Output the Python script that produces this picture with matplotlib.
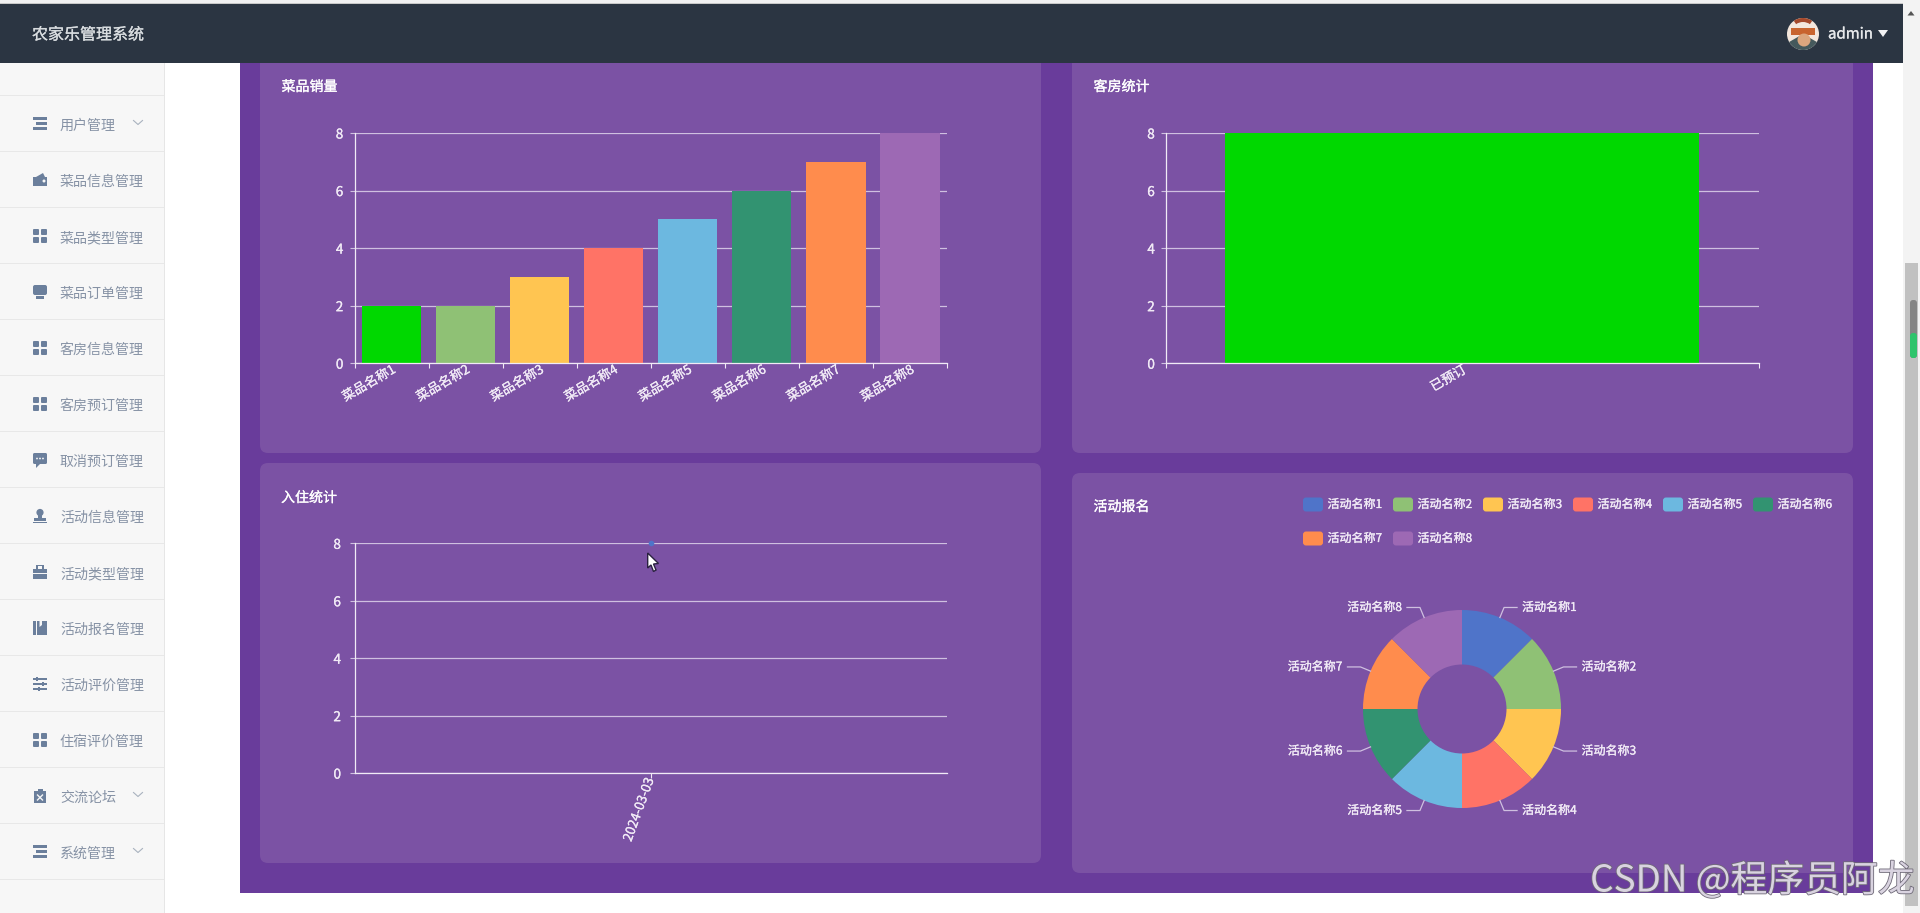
import matplotlib
matplotlib.use('Agg')
import matplotlib.pyplot as plt
import matplotlib.patheffects as pe
from matplotlib.patches import Rectangle, FancyBboxPatch, Circle, Polygon, Wedge
import numpy as np

plt.rcParams['font.family'] = ['Noto Sans CJK SC', 'DejaVu Sans']

W, H = 1920, 913

# data
dish_names = ['菜品名称1', '菜品名称2', '菜品名称3', '菜品名称4', '菜品名称5', '菜品名称6', '菜品名称7', '菜品名称8']
dish_sales = [2, 2, 3, 4, 5, 6, 7, 8]
room_names = ['已预订']
room_counts = [8]
checkin_dates = ['2024-03-03']
checkin_counts = [8]
activity_names = ['活动名称1', '活动名称2', '活动名称3', '活动名称4', '活动名称5', '活动名称6', '活动名称7', '活动名称8']
activity_signups = [1, 1, 1, 1, 1, 1, 1, 1]
y_ticks = [0, 2, 4, 6, 8]

palette = ['#4f74c9', '#8fc175', '#ffc551', '#ff7366', '#6cb8e0', '#329371', '#ff8c4d', '#9d69b4']
dish_colors = ['#00d800'] + palette[1:]

menu_items = ['用户管理', '菜品信息管理', '菜品类型管理', '菜品订单管理', '客房信息管理', '客房预订管理', '取消预订管理',
              '活动信息管理', '活动类型管理', '活动报名管理', '活动评价管理', '住宿评价管理', '交流论坛', '系统管理']
menu_icons = ['list', 'wallet', 'grid', 'inbox', 'grid', 'grid', 'chat',
              'user', 'case', 'book', 'sliders', 'grid', 'clip', 'list']
menu_open = [True, False, False, False, False, False, False, False, False, False, False, False, True, True]

PURPLE = '#693c9b'
PANEL = '#7b52a4'
LINE = '#cfc0e0'
TEXT = '#f1eaf6'
ICON = '#6b7f9c'

fig = plt.figure(figsize=(W / 100, H / 100), dpi=100, facecolor='white')


def px_axes(x0, y0, x1, y1, z=1):
    ax = fig.add_axes([x0 / W, 1 - y1 / H, (x1 - x0) / W, (y1 - y0) / H], zorder=z)
    ax.patch.set_visible(False)
    return ax


def px(size):
    return size * 0.72


def thick(color, width=0.2):
    # the screenshot is blurred, its text looks heavier than the regular weight
    return [pe.withStroke(linewidth=width, foreground=color)]


# page behind the charts, in pixel coordinates
bg = fig.add_axes([0, 0, 1, 1], zorder=0)
bg.set_xlim(0, W)
bg.set_ylim(H, 0)
bg.axis('off')


def rect(ax, x0, y0, x1, y1, color, z=1):
    ax.add_patch(Rectangle((x0, y0), x1 - x0, y1 - y0, fc=color, ec='none', zorder=z))


def draw_icon(kind, cx, cy):
    left, right = cx - 7, cx + 7
    if kind == 'grid':
        for dx in (-7, 1):
            for dy in (-7, 1):
                bg.add_patch(FancyBboxPatch((cx + dx, cy + dy), 6, 6, boxstyle='round,pad=0,rounding_size=1', fc=ICON, ec='none', zorder=3))
    elif kind == 'list':
        for dy, x in ((-5, left), (0, left + 3), (5, left)):
            rect(bg, x, cy + dy - 1.5, right, cy + dy + 1.5, ICON, 3)
    elif kind == 'wallet':
        rect(bg, left, cy - 3, right, cy + 6, ICON, 3)
        bg.add_patch(Polygon([(left + 3, cy - 3), (cx + 3, cy - 7), (cx + 5, cy - 3)], fc=ICON, ec='none', zorder=3))
        bg.add_patch(Circle((cx + 4, cy + 1), 1.5, fc='#f7f7f7', ec='none', zorder=4))
    elif kind == 'inbox':
        bg.add_patch(FancyBboxPatch((left, cy - 7), 14, 10, boxstyle='round,pad=0,rounding_size=2', fc=ICON, ec='none', zorder=3))
        rect(bg, left + 3, cy + 4, right - 3, cy + 7, ICON, 3)
    elif kind == 'chat':
        bg.add_patch(FancyBboxPatch((left, cy - 7), 14, 11, boxstyle='round,pad=0,rounding_size=1.5', fc=ICON, ec='none', zorder=3))
        bg.add_patch(Polygon([(left + 3, cy + 4), (left + 7, cy + 4), (left + 3, cy + 8)], fc=ICON, ec='none', zorder=3))
        for dx in (-3, 0, 3):
            bg.add_patch(Circle((cx + dx, cy - 1.5), 0.9, fc='#f7f7f7', ec='none', zorder=4))
    elif kind == 'user':
        bg.add_patch(Circle((cx, cy - 3.5), 3.6, fc=ICON, ec='none', zorder=3))
        rect(bg, cx - 2, cy - 1, cx + 2, cy + 3, ICON, 3)
        rect(bg, left + 1, cy + 2, right - 1, cy + 5, ICON, 3)
        rect(bg, left, cy + 6, right, cy + 7.5, ICON, 3)
    elif kind == 'case':
        rect(bg, left, cy - 3, right, cy + 7, ICON, 3)
        rect(bg, cx - 4, cy - 7, cx + 4, cy - 3, ICON, 3)
        rect(bg, cx - 2.4, cy - 5.5, cx + 2.4, cy - 3, '#f7f7f7', 4)
        rect(bg, left, cy + 0.8, right, cy + 1.8, '#f7f7f7', 4)
    elif kind == 'book':
        rect(bg, left, cy - 7, left + 3, cy + 7, ICON, 3)
        bg.add_patch(Polygon([(left + 4, cy - 7), (cx - 0.5, cy - 7), (cx - 0.5, cy - 1), (cx + 2, cy - 3), (cx + 2, cy - 7), (right, cy - 7), (right, cy + 7), (left + 4, cy + 7)], fc=ICON, ec='none', zorder=3))
    elif kind == 'sliders':
        for dy, dx in ((-5, -3), (0, 3), (5, -1)):
            rect(bg, left, cy + dy - 0.6, right, cy + dy + 0.6, ICON, 3)
            rect(bg, cx + dx - 1.2, cy + dy - 2, cx + dx + 1.2, cy + dy + 2, ICON, 3)
    elif kind == 'clip':
        rect(bg, left + 1, cy - 5, right - 1, cy + 7, ICON, 3)
        rect(bg, cx - 2.5, cy - 7, cx + 2.5, cy - 4, ICON, 3)
        bg.plot([cx - 2.5, cx + 2.5], [cy - 1, cy + 4], color='#f7f7f7', lw=1, zorder=4)
        bg.plot([cx - 2.5, cx + 2.5], [cy + 4, cy - 1], color='#f7f7f7', lw=1, zorder=4)


# purple content area and panels
rect(bg, 240, 50, 1873, 893, PURPLE)
for x0, y0, x1, y1 in [(260, 40, 1041, 453), (1072, 40, 1853, 453), (260, 463, 1041, 863), (1072, 473, 1853, 873)]:
    bg.add_patch(FancyBboxPatch((x0, y0), x1 - x0, y1 - y0, boxstyle='round,pad=0,rounding_size=8', fc=PANEL, ec='none', zorder=2))

# sidebar
rect(bg, 0, 63, 164, H, '#f7f7f7', 2)
rect(bg, 164, 63, 165, H, '#e6e6e6', 2)
for i in range(15):
    rect(bg, 0, 95.2 + 56 * i, 164, 96.2 + 56 * i, '#e8e8e8', 2)
for i, name in enumerate(menu_items):
    cy = 124 + 56 * i
    draw_icon(menu_icons[i], 40, cy)
    bg.text(60, cy + 2, name, fontsize=px(14), color='#8692a5', ha='left', va='center', zorder=3)
    if menu_open[i]:
        bg.plot([133.5, 138, 142.5], [cy - 3.5, cy + 0.5, cy - 3.5], color='#a9b2bf', lw=0.8, zorder=3)

# header
rect(bg, 0, 0, W, 4, '#f1f1f1', 5)
rect(bg, 0, 3.4, 1903, 4, '#c8c8c8', 5)
rect(bg, 0, 4, 1903, 63.5, '#2b3542', 5)
bg.text(32, 35, '农家乐管理系统', fontsize=px(16), color='#d9dde0', ha='left', va='center', zorder=6, path_effects=thick('#d9dde0'))
bg.text(1828, 34.5, 'admin', fontsize=px(15), color='#e6e8ea', ha='left', va='center', zorder=6, path_effects=thick('#e6e8ea'))
bg.add_patch(Polygon([(1878, 30), (1888, 30), (1883, 37)], fc='#f2f3f4', ec='none', zorder=6))

# avatar
bg.add_patch(Circle((1803, 34), 16, fc='#f3e6dc', ec='none', zorder=6))
bg.add_patch(Wedge((1803, 34), 16, 30, 150, fc='#45595c', ec='none', zorder=6))
rect(bg, 1791, 28, 1815, 35, '#c8642f', 7)
bg.add_patch(Circle((1804, 40), 6.5, fc='#dba67e', ec='none', zorder=7))
bg.add_patch(Wedge((1803, 34), 16, 235, 305, fc='#a5482a', ec='none', zorder=7, width=4))

# scrollbar
rect(bg, 1903, 0, W, H, '#f3f3f3', 5)
bg.add_patch(Polygon([(1907.5, 15.5), (1914.5, 15.5), (1911, 11)], fc='#555555', ec='none', zorder=6))
rect(bg, 1905, 263, 1918, 906, '#c1c1c1', 6)
bg.add_patch(FancyBboxPatch((1910, 300), 7, 58, boxstyle='round,pad=0,rounding_size=3', fc='#858585', ec='none', zorder=7))
bg.add_patch(FancyBboxPatch((1910, 333), 7, 25, boxstyle='round,pad=0,rounding_size=3', fc='#2fc46c', ec='none', zorder=8))

# panel titles
for x, y, title in [(281.5, 87, '菜品销量'), (1093.5, 87, '客房统计'), (281, 498, '入住统计'), (1093.5, 507, '活动报名')]:
    bg.text(x, y, title, fontsize=px(14), color='#ffffff', ha='left', va='center', zorder=3, path_effects=thick('#ffffff'))


def style_axes(ax, n, with_boundary=True):
    for s in ('top', 'right'):
        ax.spines[s].set_visible(False)
    for s in ('left', 'bottom'):
        ax.spines[s].set_color('#f1eaf6')
        ax.spines[s].set_linewidth(0.9)
    ax.set_xlim(-0.5, n - 0.5)
    ax.set_ylim(0, 8)
    ax.set_yticks(y_ticks)
    ax.yaxis.grid(True, color=LINE, lw=0.9, zorder=0)
    ax.set_axisbelow(True)
    ax.tick_params(axis='y', length=3.6, width=0.8, color=LINE, labelcolor=TEXT, labelsize=px(13.5), pad=4.5)
    for label in ax.get_yticklabels():
        label.set_path_effects(thick(TEXT))
    if with_boundary:
        ax.set_xticks(np.arange(n + 1) - 0.5)
        ax.set_xticklabels([])
        ax.tick_params(axis='x', length=3.6, width=0.8, color='#f1eaf6')


def category_labels(ax, names, rotation, size=13, pad=0):
    ax.set_xticks(np.arange(len(names)), minor=True)
    labels = ax.set_xticklabels(names, minor=True, rotation=rotation, ha='right', va='top', rotation_mode='anchor', color=TEXT, fontsize=px(size))
    for label in labels:
        label.set_path_effects(thick(TEXT))
    ax.tick_params(axis='x', which='minor', length=0, pad=pad)


# dish sales bar chart
ax1 = px_axes(354.5, 133, 947, 363.2)
style_axes(ax1, len(dish_names))
ax1.bar(np.arange(len(dish_names)), dish_sales, width=0.8, color=dish_colors, zorder=2)
category_labels(ax1, dish_names, 30)

# room bar chart
ax2 = px_axes(1166, 133, 1758.5, 363.2)
style_axes(ax2, len(room_names))
ax2.bar(np.arange(len(room_names)), room_counts, width=0.8, color='#00d800', zorder=2)
category_labels(ax2, room_names, 30)

# check-in line chart, a single point
ax3 = px_axes(354.5, 543.3, 947, 773.1)
style_axes(ax3, len(checkin_dates), with_boundary=False)
ax3.plot(np.arange(len(checkin_dates)), checkin_counts, marker='o', ms=3, color=palette[0], clip_on=False, zorder=3)
ax3.set_xticks(np.arange(len(checkin_dates)))
date_labels = ax3.set_xticklabels(checkin_dates, rotation=70, ha='right', va='center', rotation_mode='anchor', color=TEXT, fontsize=px(13))
for label in date_labels:
    label.set_path_effects(thick(TEXT))
ax3.tick_params(axis='x', length=3.6, width=0.8, color='#f1eaf6', pad=0)
ax3.tick_params(axis='y', pad=6.2)

# activity donut
R = 99
ax4 = px_axes(1462 - R, 709 - R, 1462 + R, 709 + R)
wedges, _ = ax4.pie(activity_signups, colors=palette, startangle=90, counterclock=False, radius=1,
                    wedgeprops=dict(width=1 - 44.5 / R, linewidth=0))
ax4.set_xlim(-1, 1)
ax4.set_ylim(-1, 1)
for wedge, name in zip(wedges, activity_names):
    mid = np.deg2rad((wedge.theta1 + wedge.theta2) / 2)
    ex, ey = 1.11 * np.cos(mid), 1.11 * np.sin(mid)
    side = 1 if ex > 0 else -1
    hx = ex + side * 13 / R
    ax4.plot([np.cos(mid), ex, hx], [np.sin(mid), ey, ey], color=LINE, lw=0.9, clip_on=False)
    ax4.text(hx + side * 5 / R, ey, name, fontsize=px(12), color=TEXT, ha='left' if side > 0 else 'right', va='center', clip_on=False, path_effects=thick(TEXT))

# legend of the donut, wrapped on two rows
for i, (name, color) in enumerate(zip(activity_names, palette)):
    lx = 1303 + 90 * (i % 6)
    ly = 504.5 + 34 * (i // 6)
    bg.add_patch(FancyBboxPatch((lx, ly - 7), 20, 14, boxstyle='round,pad=0,rounding_size=3', fc=color, ec='none', zorder=3))
    bg.text(lx + 24.5, ly, name, fontsize=px(12), color=TEXT, ha='left', va='center', zorder=3, path_effects=thick(TEXT))

# overlay: mouse pointer and watermark
top = fig.add_axes([0, 0, 1, 1], zorder=5)
top.set_xlim(0, W)
top.set_ylim(H, 0)
top.axis('off')
top.add_patch(Polygon([(647.7, 553), (647.7, 568), (651, 565), (653.5, 571.5), (656, 570), (653.5, 564), (658.5, 563.5)],
                      fc='white', ec='#2a2140', lw=1))
top.text(1914, 881, 'CSDN @程序员阿龙', fontsize=26.5, color='#d9d3e0', ha='right', va='center',
         path_effects=[pe.withStroke(linewidth=1.2, foreground='#6f6a78')])

fig.savefig('out.png', dpi=100)
